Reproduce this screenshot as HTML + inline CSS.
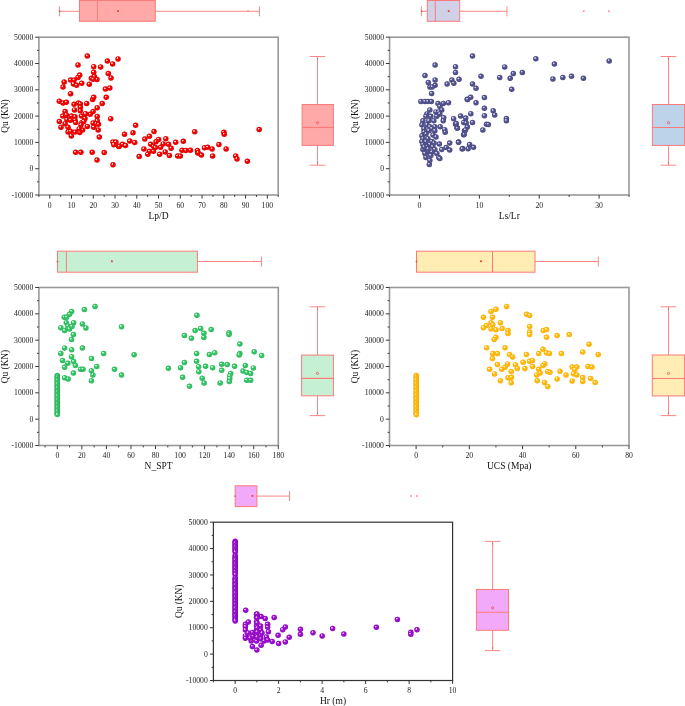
<!DOCTYPE html>
<html><head><meta charset="utf-8"><title>Scatter plots with marginal box plots</title>
<style>html,body{margin:0;padding:0;background:#fff;}body{width:685px;height:706px;overflow:hidden;}svg{display:block;}</style>
</head><body>
<svg width="685" height="706" viewBox="0 0 685 706"><defs><radialGradient id="gred" cx="0.5" cy="0.5" r="0.5" fx="0.33" fy="0.3"><stop offset="0" stop-color="#ffd0d0"/><stop offset="0.2" stop-color="#ffd0d0"/><stop offset="0.42" stop-color="#f50000"/><stop offset="0.82" stop-color="#f50000"/><stop offset="1" stop-color="#c80000"/></radialGradient><radialGradient id="gblue" cx="0.5" cy="0.5" r="0.5" fx="0.33" fy="0.3"><stop offset="0" stop-color="#c8c8e0"/><stop offset="0.2" stop-color="#c8c8e0"/><stop offset="0.42" stop-color="#52528e"/><stop offset="0.82" stop-color="#52528e"/><stop offset="1" stop-color="#3c3c74"/></radialGradient><radialGradient id="ggreen" cx="0.5" cy="0.5" r="0.5" fx="0.33" fy="0.3"><stop offset="0" stop-color="#c8f5d8"/><stop offset="0.2" stop-color="#c8f5d8"/><stop offset="0.42" stop-color="#33c365"/><stop offset="0.82" stop-color="#33c365"/><stop offset="1" stop-color="#22a852"/></radialGradient><radialGradient id="ggold" cx="0.5" cy="0.5" r="0.5" fx="0.33" fy="0.3"><stop offset="0" stop-color="#fff2c0"/><stop offset="0.2" stop-color="#fff2c0"/><stop offset="0.42" stop-color="#ffb90a"/><stop offset="0.82" stop-color="#ffb90a"/><stop offset="1" stop-color="#f0a400"/></radialGradient><radialGradient id="gpurple" cx="0.5" cy="0.5" r="0.5" fx="0.33" fy="0.3"><stop offset="0" stop-color="#e8b0f8"/><stop offset="0.2" stop-color="#e8b0f8"/><stop offset="0.42" stop-color="#9a0fce"/><stop offset="0.82" stop-color="#9a0fce"/><stop offset="1" stop-color="#7c00b0"/></radialGradient></defs><rect width="685" height="706" fill="#fff"/><rect x="38.9" y="37.2" width="239.29999999999998" height="157.8" fill="none" stroke="#999999" stroke-width="1.6"/><line x1="49.78" y1="195.0" x2="49.78" y2="198.7" stroke="#3a3a3a" stroke-width="1.0"/><text x="49.78" y="207.6" text-anchor="middle" style="font-family:'Liberation Serif','Times New Roman',serif;font-size:7.7px" fill="#222">0</text><line x1="71.53" y1="195.0" x2="71.53" y2="198.7" stroke="#3a3a3a" stroke-width="1.0"/><text x="71.53" y="207.6" text-anchor="middle" style="font-family:'Liberation Serif','Times New Roman',serif;font-size:7.7px" fill="#222">10</text><line x1="93.29" y1="195.0" x2="93.29" y2="198.7" stroke="#3a3a3a" stroke-width="1.0"/><text x="93.29" y="207.6" text-anchor="middle" style="font-family:'Liberation Serif','Times New Roman',serif;font-size:7.7px" fill="#222">20</text><line x1="115.04" y1="195.0" x2="115.04" y2="198.7" stroke="#3a3a3a" stroke-width="1.0"/><text x="115.04" y="207.6" text-anchor="middle" style="font-family:'Liberation Serif','Times New Roman',serif;font-size:7.7px" fill="#222">30</text><line x1="136.80" y1="195.0" x2="136.80" y2="198.7" stroke="#3a3a3a" stroke-width="1.0"/><text x="136.80" y="207.6" text-anchor="middle" style="font-family:'Liberation Serif','Times New Roman',serif;font-size:7.7px" fill="#222">40</text><line x1="158.55" y1="195.0" x2="158.55" y2="198.7" stroke="#3a3a3a" stroke-width="1.0"/><text x="158.55" y="207.6" text-anchor="middle" style="font-family:'Liberation Serif','Times New Roman',serif;font-size:7.7px" fill="#222">50</text><line x1="180.30" y1="195.0" x2="180.30" y2="198.7" stroke="#3a3a3a" stroke-width="1.0"/><text x="180.30" y="207.6" text-anchor="middle" style="font-family:'Liberation Serif','Times New Roman',serif;font-size:7.7px" fill="#222">60</text><line x1="202.06" y1="195.0" x2="202.06" y2="198.7" stroke="#3a3a3a" stroke-width="1.0"/><text x="202.06" y="207.6" text-anchor="middle" style="font-family:'Liberation Serif','Times New Roman',serif;font-size:7.7px" fill="#222">70</text><line x1="223.81" y1="195.0" x2="223.81" y2="198.7" stroke="#3a3a3a" stroke-width="1.0"/><text x="223.81" y="207.6" text-anchor="middle" style="font-family:'Liberation Serif','Times New Roman',serif;font-size:7.7px" fill="#222">80</text><line x1="245.57" y1="195.0" x2="245.57" y2="198.7" stroke="#3a3a3a" stroke-width="1.0"/><text x="245.57" y="207.6" text-anchor="middle" style="font-family:'Liberation Serif','Times New Roman',serif;font-size:7.7px" fill="#222">90</text><line x1="267.32" y1="195.0" x2="267.32" y2="198.7" stroke="#3a3a3a" stroke-width="1.0"/><text x="267.32" y="207.6" text-anchor="middle" style="font-family:'Liberation Serif','Times New Roman',serif;font-size:7.7px" fill="#222">100</text><line x1="38.90" y1="195.0" x2="38.90" y2="196.9" stroke="#3a3a3a" stroke-width="1.0"/><line x1="60.65" y1="195.0" x2="60.65" y2="196.9" stroke="#3a3a3a" stroke-width="1.0"/><line x1="82.41" y1="195.0" x2="82.41" y2="196.9" stroke="#3a3a3a" stroke-width="1.0"/><line x1="104.16" y1="195.0" x2="104.16" y2="196.9" stroke="#3a3a3a" stroke-width="1.0"/><line x1="125.92" y1="195.0" x2="125.92" y2="196.9" stroke="#3a3a3a" stroke-width="1.0"/><line x1="147.67" y1="195.0" x2="147.67" y2="196.9" stroke="#3a3a3a" stroke-width="1.0"/><line x1="169.43" y1="195.0" x2="169.43" y2="196.9" stroke="#3a3a3a" stroke-width="1.0"/><line x1="191.18" y1="195.0" x2="191.18" y2="196.9" stroke="#3a3a3a" stroke-width="1.0"/><line x1="212.94" y1="195.0" x2="212.94" y2="196.9" stroke="#3a3a3a" stroke-width="1.0"/><line x1="234.69" y1="195.0" x2="234.69" y2="196.9" stroke="#3a3a3a" stroke-width="1.0"/><line x1="256.45" y1="195.0" x2="256.45" y2="196.9" stroke="#3a3a3a" stroke-width="1.0"/><line x1="278.20" y1="195.0" x2="278.20" y2="196.9" stroke="#3a3a3a" stroke-width="1.0"/><line x1="35.199999999999996" y1="195.00" x2="38.9" y2="195.00" stroke="#3a3a3a" stroke-width="1.0"/><text x="33.3" y="197.60" text-anchor="end" style="font-family:'Liberation Serif','Times New Roman',serif;font-size:7.7px" fill="#222">-10000</text><line x1="35.199999999999996" y1="168.70" x2="38.9" y2="168.70" stroke="#3a3a3a" stroke-width="1.0"/><text x="33.3" y="171.30" text-anchor="end" style="font-family:'Liberation Serif','Times New Roman',serif;font-size:7.7px" fill="#222">0</text><line x1="35.199999999999996" y1="142.40" x2="38.9" y2="142.40" stroke="#3a3a3a" stroke-width="1.0"/><text x="33.3" y="145.00" text-anchor="end" style="font-family:'Liberation Serif','Times New Roman',serif;font-size:7.7px" fill="#222">10000</text><line x1="35.199999999999996" y1="116.10" x2="38.9" y2="116.10" stroke="#3a3a3a" stroke-width="1.0"/><text x="33.3" y="118.70" text-anchor="end" style="font-family:'Liberation Serif','Times New Roman',serif;font-size:7.7px" fill="#222">20000</text><line x1="35.199999999999996" y1="89.80" x2="38.9" y2="89.80" stroke="#3a3a3a" stroke-width="1.0"/><text x="33.3" y="92.40" text-anchor="end" style="font-family:'Liberation Serif','Times New Roman',serif;font-size:7.7px" fill="#222">30000</text><line x1="35.199999999999996" y1="63.50" x2="38.9" y2="63.50" stroke="#3a3a3a" stroke-width="1.0"/><text x="33.3" y="66.10" text-anchor="end" style="font-family:'Liberation Serif','Times New Roman',serif;font-size:7.7px" fill="#222">40000</text><line x1="35.199999999999996" y1="37.20" x2="38.9" y2="37.20" stroke="#3a3a3a" stroke-width="1.0"/><text x="33.3" y="39.80" text-anchor="end" style="font-family:'Liberation Serif','Times New Roman',serif;font-size:7.7px" fill="#222">50000</text><line x1="37.0" y1="181.85" x2="38.9" y2="181.85" stroke="#3a3a3a" stroke-width="1.0"/><line x1="37.0" y1="155.55" x2="38.9" y2="155.55" stroke="#3a3a3a" stroke-width="1.0"/><line x1="37.0" y1="129.25" x2="38.9" y2="129.25" stroke="#3a3a3a" stroke-width="1.0"/><line x1="37.0" y1="102.95" x2="38.9" y2="102.95" stroke="#3a3a3a" stroke-width="1.0"/><line x1="37.0" y1="76.65" x2="38.9" y2="76.65" stroke="#3a3a3a" stroke-width="1.0"/><line x1="37.0" y1="50.35" x2="38.9" y2="50.35" stroke="#3a3a3a" stroke-width="1.0"/><text x="158.55" y="218.7" text-anchor="middle" style="font-family:'Liberation Serif','Times New Roman',serif;font-size:9.5px" fill="#111">Lp/D</text><text x="7.70" y="116.10" text-anchor="middle" transform="rotate(-90 7.70 116.10)" style="font-family:'Liberation Serif','Times New Roman',serif;font-size:9.3px" fill="#111">Qu (KN)</text><rect x="79.5" y="0.5" width="75.80000000000001" height="20.8" fill="#ffa9a9" stroke="#fb7b7b" stroke-width="1"/><line x1="97.4" y1="0.5" x2="97.4" y2="21.3" stroke="#fb7b7b" stroke-width="1"/><line x1="59.5" y1="11.3" x2="79.5" y2="11.3" stroke="#fb7b7b" stroke-width="0.9"/><line x1="59.5" y1="6.300000000000001" x2="59.5" y2="16.3" stroke="#fb7b7b" stroke-width="0.9"/><circle cx="59.8" cy="11.3" r="0.9" fill="#f24a4a"/><line x1="155.3" y1="11.3" x2="259.5" y2="11.3" stroke="#fb7b7b" stroke-width="0.9"/><line x1="259.5" y1="6.300000000000001" x2="259.5" y2="16.3" stroke="#fb7b7b" stroke-width="0.9"/><rect x="117.1" y="10.200000000000001" width="1.8" height="1.8" fill="#ec4040"/><rect x="247.1" y="10.5" width="1.8" height="1.5" fill="#fb8a8a"/><line x1="317.5" y1="56.5" x2="317.5" y2="104.5" stroke="#fb7b7b" stroke-width="0.9"/><line x1="317.5" y1="145.4" x2="317.5" y2="165.2" stroke="#fb7b7b" stroke-width="0.9"/><line x1="309.7" y1="56.5" x2="325.3" y2="56.5" stroke="#fb7b7b" stroke-width="0.9"/><line x1="309.7" y1="165.2" x2="325.3" y2="165.2" stroke="#fb7b7b" stroke-width="0.9"/><rect x="302.1" y="104.5" width="31.299999999999955" height="40.900000000000006" fill="#ffa9a9" stroke="#fb7b7b" stroke-width="1"/><line x1="302.1" y1="127.5" x2="333.4" y2="127.5" stroke="#fb7b7b" stroke-width="1.1"/><circle cx="317.5" cy="122.7" r="1.1" fill="none" stroke="#ec5050" stroke-width="0.8"/><rect x="316.9" y="58.1" width="1.2" height="1.4" fill="#f06060"/><rect x="316.9" y="162.0" width="1.2" height="1.4" fill="#f06060"/><circle cx="87.3" cy="56.1" r="2.75" fill="url(#gred)"/><circle cx="78.0" cy="64.9" r="2.75" fill="url(#gred)"/><circle cx="93.7" cy="66.7" r="2.75" fill="url(#gred)"/><circle cx="100.7" cy="66.9" r="2.75" fill="url(#gred)"/><circle cx="107.4" cy="61.1" r="2.75" fill="url(#gred)"/><circle cx="112.6" cy="64.0" r="2.75" fill="url(#gred)"/><circle cx="118.0" cy="58.9" r="2.75" fill="url(#gred)"/><circle cx="79.7" cy="75.1" r="2.75" fill="url(#gred)"/><circle cx="78.0" cy="77.4" r="2.75" fill="url(#gred)"/><circle cx="70.6" cy="80.1" r="2.75" fill="url(#gred)"/><circle cx="74.1" cy="80.1" r="2.75" fill="url(#gred)"/><circle cx="64.2" cy="82.1" r="2.75" fill="url(#gred)"/><circle cx="73.5" cy="83.9" r="2.75" fill="url(#gred)"/><circle cx="76.6" cy="85.3" r="2.75" fill="url(#gred)"/><circle cx="81.7" cy="83.3" r="2.75" fill="url(#gred)"/><circle cx="63.0" cy="87.1" r="2.75" fill="url(#gred)"/><circle cx="93.7" cy="72.2" r="2.75" fill="url(#gred)"/><circle cx="91.4" cy="78.3" r="2.75" fill="url(#gred)"/><circle cx="94.3" cy="76.6" r="2.75" fill="url(#gred)"/><circle cx="97.0" cy="79.4" r="2.75" fill="url(#gred)"/><circle cx="93.1" cy="79.2" r="2.75" fill="url(#gred)"/><circle cx="89.3" cy="84.2" r="2.75" fill="url(#gred)"/><circle cx="108.3" cy="73.4" r="2.75" fill="url(#gred)"/><circle cx="111.0" cy="78.0" r="2.75" fill="url(#gred)"/><circle cx="105.4" cy="89.1" r="2.75" fill="url(#gred)"/><circle cx="109.8" cy="88.0" r="2.75" fill="url(#gred)"/><circle cx="70.6" cy="93.8" r="2.75" fill="url(#gred)"/><circle cx="59.3" cy="101.2" r="2.75" fill="url(#gred)"/><circle cx="63.0" cy="103.1" r="2.75" fill="url(#gred)"/><circle cx="66.3" cy="102.3" r="2.75" fill="url(#gred)"/><circle cx="74.1" cy="104.3" r="2.75" fill="url(#gred)"/><circle cx="78.5" cy="103.1" r="2.75" fill="url(#gred)"/><circle cx="80.3" cy="104.0" r="2.75" fill="url(#gred)"/><circle cx="80.3" cy="107.2" r="2.75" fill="url(#gred)"/><circle cx="86.7" cy="103.4" r="2.75" fill="url(#gred)"/><circle cx="92.6" cy="99.6" r="2.75" fill="url(#gred)"/><circle cx="93.7" cy="97.3" r="2.75" fill="url(#gred)"/><circle cx="102.2" cy="103.4" r="2.75" fill="url(#gred)"/><circle cx="106.2" cy="97.3" r="2.75" fill="url(#gred)"/><circle cx="97.2" cy="107.8" r="2.75" fill="url(#gred)"/><circle cx="74.5" cy="109.9" r="2.75" fill="url(#gred)"/><circle cx="80.3" cy="110.8" r="2.75" fill="url(#gred)"/><circle cx="65.1" cy="111.4" r="2.75" fill="url(#gred)"/><circle cx="93.1" cy="111.4" r="2.75" fill="url(#gred)"/><circle cx="90.2" cy="114.3" r="2.75" fill="url(#gred)"/><circle cx="85.5" cy="113.8" r="2.75" fill="url(#gred)"/><circle cx="62.8" cy="116.1" r="2.75" fill="url(#gred)"/><circle cx="66.3" cy="114.9" r="2.75" fill="url(#gred)"/><circle cx="71.5" cy="116.1" r="2.75" fill="url(#gred)"/><circle cx="75.0" cy="116.7" r="2.75" fill="url(#gred)"/><circle cx="81.5" cy="116.1" r="2.75" fill="url(#gred)"/><circle cx="85.0" cy="118.4" r="2.75" fill="url(#gred)"/><circle cx="97.2" cy="116.4" r="2.75" fill="url(#gred)"/><circle cx="110.7" cy="118.8" r="2.75" fill="url(#gred)"/><circle cx="59.3" cy="121.4" r="2.75" fill="url(#gred)"/><circle cx="66.9" cy="119.6" r="2.75" fill="url(#gred)"/><circle cx="70.4" cy="120.2" r="2.75" fill="url(#gred)"/><circle cx="75.0" cy="120.2" r="2.75" fill="url(#gred)"/><circle cx="75.6" cy="122.5" r="2.75" fill="url(#gred)"/><circle cx="82.0" cy="122.5" r="2.75" fill="url(#gred)"/><circle cx="83.8" cy="121.4" r="2.75" fill="url(#gred)"/><circle cx="65.1" cy="123.7" r="2.75" fill="url(#gred)"/><circle cx="93.1" cy="123.1" r="2.75" fill="url(#gred)"/><circle cx="97.2" cy="120.8" r="2.75" fill="url(#gred)"/><circle cx="96.1" cy="123.7" r="2.75" fill="url(#gred)"/><circle cx="98.4" cy="124.3" r="2.75" fill="url(#gred)"/><circle cx="61.0" cy="127.2" r="2.75" fill="url(#gred)"/><circle cx="68.0" cy="127.2" r="2.75" fill="url(#gred)"/><circle cx="80.9" cy="124.9" r="2.75" fill="url(#gred)"/><circle cx="87.3" cy="126.4" r="2.75" fill="url(#gred)"/><circle cx="93.7" cy="127.2" r="2.75" fill="url(#gred)"/><circle cx="68.0" cy="131.9" r="2.75" fill="url(#gred)"/><circle cx="70.4" cy="131.3" r="2.75" fill="url(#gred)"/><circle cx="75.0" cy="132.1" r="2.75" fill="url(#gred)"/><circle cx="79.7" cy="132.4" r="2.75" fill="url(#gred)"/><circle cx="82.6" cy="130.1" r="2.75" fill="url(#gred)"/><circle cx="79.1" cy="128.9" r="2.75" fill="url(#gred)"/><circle cx="98.2" cy="130.1" r="2.75" fill="url(#gred)"/><circle cx="71.3" cy="135.9" r="2.75" fill="url(#gred)"/><circle cx="99.3" cy="137.1" r="2.75" fill="url(#gred)"/><circle cx="113.0" cy="142.1" r="2.75" fill="url(#gred)"/><circle cx="115.9" cy="142.1" r="2.75" fill="url(#gred)"/><circle cx="113.8" cy="144.7" r="2.75" fill="url(#gred)"/><circle cx="118.8" cy="146.5" r="2.75" fill="url(#gred)"/><circle cx="75.6" cy="152.3" r="2.75" fill="url(#gred)"/><circle cx="80.9" cy="152.3" r="2.75" fill="url(#gred)"/><circle cx="92.2" cy="152.3" r="2.75" fill="url(#gred)"/><circle cx="104.2" cy="152.6" r="2.75" fill="url(#gred)"/><circle cx="97.0" cy="160.1" r="2.75" fill="url(#gred)"/><circle cx="113.0" cy="164.8" r="2.75" fill="url(#gred)"/><circle cx="135.6" cy="125.3" r="2.75" fill="url(#gred)"/><circle cx="124.5" cy="134.2" r="2.75" fill="url(#gred)"/><circle cx="133.0" cy="132.7" r="2.75" fill="url(#gred)"/><circle cx="154.0" cy="131.6" r="2.75" fill="url(#gred)"/><circle cx="194.7" cy="131.8" r="2.75" fill="url(#gred)"/><circle cx="149.4" cy="136.2" r="2.75" fill="url(#gred)"/><circle cx="144.8" cy="139.1" r="2.75" fill="url(#gred)"/><circle cx="119.2" cy="146.3" r="2.75" fill="url(#gred)"/><circle cx="122.5" cy="144.3" r="2.75" fill="url(#gred)"/><circle cx="125.5" cy="145.6" r="2.75" fill="url(#gred)"/><circle cx="129.7" cy="141.0" r="2.75" fill="url(#gred)"/><circle cx="134.7" cy="142.6" r="2.75" fill="url(#gred)"/><circle cx="158.6" cy="139.4" r="2.75" fill="url(#gred)"/><circle cx="156.0" cy="141.7" r="2.75" fill="url(#gred)"/><circle cx="150.7" cy="144.3" r="2.75" fill="url(#gred)"/><circle cx="153.4" cy="146.3" r="2.75" fill="url(#gred)"/><circle cx="155.3" cy="147.6" r="2.75" fill="url(#gred)"/><circle cx="165.8" cy="138.8" r="2.75" fill="url(#gred)"/><circle cx="163.2" cy="143.9" r="2.75" fill="url(#gred)"/><circle cx="168.5" cy="144.3" r="2.75" fill="url(#gred)"/><circle cx="160.6" cy="147.3" r="2.75" fill="url(#gred)"/><circle cx="171.1" cy="148.2" r="2.75" fill="url(#gred)"/><circle cx="175.7" cy="142.3" r="2.75" fill="url(#gred)"/><circle cx="183.3" cy="141.3" r="2.75" fill="url(#gred)"/><circle cx="143.9" cy="148.9" r="2.75" fill="url(#gred)"/><circle cx="149.4" cy="151.3" r="2.75" fill="url(#gred)"/><circle cx="153.4" cy="151.3" r="2.75" fill="url(#gred)"/><circle cx="147.8" cy="154.2" r="2.75" fill="url(#gred)"/><circle cx="159.7" cy="154.2" r="2.75" fill="url(#gred)"/><circle cx="165.2" cy="151.9" r="2.75" fill="url(#gred)"/><circle cx="169.4" cy="155.5" r="2.75" fill="url(#gred)"/><circle cx="177.7" cy="156.1" r="2.75" fill="url(#gred)"/><circle cx="180.3" cy="156.1" r="2.75" fill="url(#gred)"/><circle cx="182.0" cy="150.2" r="2.75" fill="url(#gred)"/><circle cx="185.9" cy="150.5" r="2.75" fill="url(#gred)"/><circle cx="190.4" cy="150.2" r="2.75" fill="url(#gred)"/><circle cx="197.4" cy="150.5" r="2.75" fill="url(#gred)"/><circle cx="197.8" cy="153.1" r="2.75" fill="url(#gred)"/><circle cx="139.2" cy="156.5" r="2.75" fill="url(#gred)"/><circle cx="223.9" cy="132.3" r="2.75" fill="url(#gred)"/><circle cx="224.2" cy="134.3" r="2.75" fill="url(#gred)"/><circle cx="259.2" cy="129.4" r="2.75" fill="url(#gred)"/><circle cx="198.1" cy="152.7" r="2.75" fill="url(#gred)"/><circle cx="201.4" cy="155.1" r="2.75" fill="url(#gred)"/><circle cx="204.5" cy="147.8" r="2.75" fill="url(#gred)"/><circle cx="207.7" cy="147.2" r="2.75" fill="url(#gred)"/><circle cx="212.1" cy="149.0" r="2.75" fill="url(#gred)"/><circle cx="218.9" cy="144.6" r="2.75" fill="url(#gred)"/><circle cx="226.1" cy="149.0" r="2.75" fill="url(#gred)"/><circle cx="212.6" cy="156.0" r="2.75" fill="url(#gred)"/><circle cx="235.7" cy="156.0" r="2.75" fill="url(#gred)"/><circle cx="237.0" cy="158.9" r="2.75" fill="url(#gred)"/><circle cx="247.4" cy="161.2" r="2.75" fill="url(#gred)"/><rect x="389.6" y="37.2" width="239.39999999999998" height="157.8" fill="none" stroke="#999999" stroke-width="1.6"/><line x1="419.53" y1="195.0" x2="419.53" y2="198.7" stroke="#3a3a3a" stroke-width="1.0"/><text x="419.53" y="207.6" text-anchor="middle" style="font-family:'Liberation Serif','Times New Roman',serif;font-size:7.7px" fill="#222">0</text><line x1="479.38" y1="195.0" x2="479.38" y2="198.7" stroke="#3a3a3a" stroke-width="1.0"/><text x="479.38" y="207.6" text-anchor="middle" style="font-family:'Liberation Serif','Times New Roman',serif;font-size:7.7px" fill="#222">10</text><line x1="539.23" y1="195.0" x2="539.23" y2="198.7" stroke="#3a3a3a" stroke-width="1.0"/><text x="539.23" y="207.6" text-anchor="middle" style="font-family:'Liberation Serif','Times New Roman',serif;font-size:7.7px" fill="#222">20</text><line x1="599.08" y1="195.0" x2="599.08" y2="198.7" stroke="#3a3a3a" stroke-width="1.0"/><text x="599.08" y="207.6" text-anchor="middle" style="font-family:'Liberation Serif','Times New Roman',serif;font-size:7.7px" fill="#222">30</text><line x1="389.60" y1="195.0" x2="389.60" y2="196.9" stroke="#3a3a3a" stroke-width="1.0"/><line x1="449.45" y1="195.0" x2="449.45" y2="196.9" stroke="#3a3a3a" stroke-width="1.0"/><line x1="509.30" y1="195.0" x2="509.30" y2="196.9" stroke="#3a3a3a" stroke-width="1.0"/><line x1="569.15" y1="195.0" x2="569.15" y2="196.9" stroke="#3a3a3a" stroke-width="1.0"/><line x1="629.00" y1="195.0" x2="629.00" y2="196.9" stroke="#3a3a3a" stroke-width="1.0"/><line x1="385.90000000000003" y1="195.00" x2="389.6" y2="195.00" stroke="#3a3a3a" stroke-width="1.0"/><text x="384.0" y="197.60" text-anchor="end" style="font-family:'Liberation Serif','Times New Roman',serif;font-size:7.7px" fill="#222">-10000</text><line x1="385.90000000000003" y1="168.70" x2="389.6" y2="168.70" stroke="#3a3a3a" stroke-width="1.0"/><text x="384.0" y="171.30" text-anchor="end" style="font-family:'Liberation Serif','Times New Roman',serif;font-size:7.7px" fill="#222">0</text><line x1="385.90000000000003" y1="142.40" x2="389.6" y2="142.40" stroke="#3a3a3a" stroke-width="1.0"/><text x="384.0" y="145.00" text-anchor="end" style="font-family:'Liberation Serif','Times New Roman',serif;font-size:7.7px" fill="#222">10000</text><line x1="385.90000000000003" y1="116.10" x2="389.6" y2="116.10" stroke="#3a3a3a" stroke-width="1.0"/><text x="384.0" y="118.70" text-anchor="end" style="font-family:'Liberation Serif','Times New Roman',serif;font-size:7.7px" fill="#222">20000</text><line x1="385.90000000000003" y1="89.80" x2="389.6" y2="89.80" stroke="#3a3a3a" stroke-width="1.0"/><text x="384.0" y="92.40" text-anchor="end" style="font-family:'Liberation Serif','Times New Roman',serif;font-size:7.7px" fill="#222">30000</text><line x1="385.90000000000003" y1="63.50" x2="389.6" y2="63.50" stroke="#3a3a3a" stroke-width="1.0"/><text x="384.0" y="66.10" text-anchor="end" style="font-family:'Liberation Serif','Times New Roman',serif;font-size:7.7px" fill="#222">40000</text><line x1="385.90000000000003" y1="37.20" x2="389.6" y2="37.20" stroke="#3a3a3a" stroke-width="1.0"/><text x="384.0" y="39.80" text-anchor="end" style="font-family:'Liberation Serif','Times New Roman',serif;font-size:7.7px" fill="#222">50000</text><line x1="387.70000000000005" y1="181.85" x2="389.6" y2="181.85" stroke="#3a3a3a" stroke-width="1.0"/><line x1="387.70000000000005" y1="155.55" x2="389.6" y2="155.55" stroke="#3a3a3a" stroke-width="1.0"/><line x1="387.70000000000005" y1="129.25" x2="389.6" y2="129.25" stroke="#3a3a3a" stroke-width="1.0"/><line x1="387.70000000000005" y1="102.95" x2="389.6" y2="102.95" stroke="#3a3a3a" stroke-width="1.0"/><line x1="387.70000000000005" y1="76.65" x2="389.6" y2="76.65" stroke="#3a3a3a" stroke-width="1.0"/><line x1="387.70000000000005" y1="50.35" x2="389.6" y2="50.35" stroke="#3a3a3a" stroke-width="1.0"/><text x="509.30" y="218.7" text-anchor="middle" style="font-family:'Liberation Serif','Times New Roman',serif;font-size:9.5px" fill="#111">Ls/Lr</text><text x="358.40" y="116.10" text-anchor="middle" transform="rotate(-90 358.40 116.10)" style="font-family:'Liberation Serif','Times New Roman',serif;font-size:9.3px" fill="#111">Qu (KN)</text><rect x="427.3" y="0.5" width="32.39999999999998" height="20.8" fill="#d0d0e6" stroke="#fb7b7b" stroke-width="1"/><line x1="435.3" y1="0.5" x2="435.3" y2="21.3" stroke="#fb7b7b" stroke-width="1"/><line x1="421.4" y1="11.3" x2="427.3" y2="11.3" stroke="#fb7b7b" stroke-width="0.9"/><line x1="421.4" y1="6.300000000000001" x2="421.4" y2="16.3" stroke="#fb7b7b" stroke-width="0.9"/><circle cx="421.7" cy="11.3" r="0.9" fill="#f24a4a"/><line x1="459.7" y1="11.3" x2="506.9" y2="11.3" stroke="#fb7b7b" stroke-width="0.9"/><line x1="506.9" y1="6.300000000000001" x2="506.9" y2="16.3" stroke="#fb7b7b" stroke-width="0.9"/><rect x="447.8" y="10.200000000000001" width="1.8" height="1.8" fill="#ec4040"/><rect x="582.8000000000001" y="10.5" width="1.8" height="1.5" fill="#fb8a8a"/><rect x="608.1" y="10.5" width="1.8" height="1.5" fill="#fb8a8a"/><line x1="668.5" y1="56.5" x2="668.5" y2="104.5" stroke="#fb7b7b" stroke-width="0.9"/><line x1="668.5" y1="145.4" x2="668.5" y2="165.2" stroke="#fb7b7b" stroke-width="0.9"/><line x1="660.7" y1="56.5" x2="676.3" y2="56.5" stroke="#fb7b7b" stroke-width="0.9"/><line x1="660.7" y1="165.2" x2="676.3" y2="165.2" stroke="#fb7b7b" stroke-width="0.9"/><rect x="652.4" y="104.5" width="32.200000000000045" height="40.900000000000006" fill="#bcd3ea" stroke="#fb7b7b" stroke-width="1"/><line x1="652.4" y1="127.5" x2="684.6" y2="127.5" stroke="#fb7b7b" stroke-width="1.1"/><circle cx="668.5" cy="122.7" r="1.1" fill="none" stroke="#ec5050" stroke-width="0.8"/><rect x="667.9" y="58.1" width="1.2" height="1.4" fill="#f06060"/><rect x="667.9" y="162.0" width="1.2" height="1.4" fill="#f06060"/><circle cx="472.5" cy="56.1" r="2.75" fill="url(#gblue)"/><circle cx="435.1" cy="65.1" r="2.75" fill="url(#gblue)"/><circle cx="455.5" cy="66.8" r="2.75" fill="url(#gblue)"/><circle cx="455.5" cy="72.4" r="2.75" fill="url(#gblue)"/><circle cx="425.0" cy="75.6" r="2.75" fill="url(#gblue)"/><circle cx="481.0" cy="76.3" r="2.75" fill="url(#gblue)"/><circle cx="435.1" cy="80.0" r="2.75" fill="url(#gblue)"/><circle cx="428.3" cy="82.4" r="2.75" fill="url(#gblue)"/><circle cx="451.8" cy="80.0" r="2.75" fill="url(#gblue)"/><circle cx="459.0" cy="79.2" r="2.75" fill="url(#gblue)"/><circle cx="447.1" cy="84.1" r="2.75" fill="url(#gblue)"/><circle cx="453.8" cy="83.3" r="2.75" fill="url(#gblue)"/><circle cx="435.1" cy="85.3" r="2.75" fill="url(#gblue)"/><circle cx="429.9" cy="87.0" r="2.75" fill="url(#gblue)"/><circle cx="432.2" cy="87.0" r="2.75" fill="url(#gblue)"/><circle cx="472.5" cy="84.1" r="2.75" fill="url(#gblue)"/><circle cx="476.0" cy="88.2" r="2.75" fill="url(#gblue)"/><circle cx="431.6" cy="93.5" r="2.75" fill="url(#gblue)"/><circle cx="470.7" cy="97.3" r="2.75" fill="url(#gblue)"/><circle cx="467.2" cy="99.3" r="2.75" fill="url(#gblue)"/><circle cx="484.4" cy="97.6" r="2.75" fill="url(#gblue)"/><circle cx="476.0" cy="102.8" r="2.75" fill="url(#gblue)"/><circle cx="438.0" cy="103.4" r="2.75" fill="url(#gblue)"/><circle cx="443.3" cy="103.4" r="2.75" fill="url(#gblue)"/><circle cx="448.5" cy="102.8" r="2.75" fill="url(#gblue)"/><circle cx="420.9" cy="101.5" r="2.75" fill="url(#gblue)"/><circle cx="424.9" cy="101.5" r="2.75" fill="url(#gblue)"/><circle cx="427.9" cy="101.5" r="2.75" fill="url(#gblue)"/><circle cx="431.3" cy="101.5" r="2.75" fill="url(#gblue)"/><circle cx="439.8" cy="106.4" r="2.75" fill="url(#gblue)"/><circle cx="429.8" cy="109.9" r="2.75" fill="url(#gblue)"/><circle cx="441.7" cy="109.9" r="2.75" fill="url(#gblue)"/><circle cx="435.8" cy="111.9" r="2.75" fill="url(#gblue)"/><circle cx="438.8" cy="111.9" r="2.75" fill="url(#gblue)"/><circle cx="426.9" cy="113.9" r="2.75" fill="url(#gblue)"/><circle cx="439.8" cy="113.9" r="2.75" fill="url(#gblue)"/><circle cx="425.9" cy="116.3" r="2.75" fill="url(#gblue)"/><circle cx="430.8" cy="116.3" r="2.75" fill="url(#gblue)"/><circle cx="436.8" cy="116.3" r="2.75" fill="url(#gblue)"/><circle cx="443.7" cy="117.8" r="2.75" fill="url(#gblue)"/><circle cx="453.6" cy="118.8" r="2.75" fill="url(#gblue)"/><circle cx="460.6" cy="116.0" r="2.75" fill="url(#gblue)"/><circle cx="422.9" cy="120.8" r="2.75" fill="url(#gblue)"/><circle cx="428.8" cy="120.8" r="2.75" fill="url(#gblue)"/><circle cx="433.8" cy="120.8" r="2.75" fill="url(#gblue)"/><circle cx="443.2" cy="120.8" r="2.75" fill="url(#gblue)"/><circle cx="465.5" cy="122.3" r="2.75" fill="url(#gblue)"/><circle cx="455.6" cy="124.3" r="2.75" fill="url(#gblue)"/><circle cx="421.9" cy="124.8" r="2.75" fill="url(#gblue)"/><circle cx="426.9" cy="124.8" r="2.75" fill="url(#gblue)"/><circle cx="429.8" cy="126.8" r="2.75" fill="url(#gblue)"/><circle cx="434.8" cy="126.8" r="2.75" fill="url(#gblue)"/><circle cx="440.2" cy="126.8" r="2.75" fill="url(#gblue)"/><circle cx="457.1" cy="127.8" r="2.75" fill="url(#gblue)"/><circle cx="423.9" cy="128.7" r="2.75" fill="url(#gblue)"/><circle cx="431.8" cy="128.7" r="2.75" fill="url(#gblue)"/><circle cx="444.7" cy="129.7" r="2.75" fill="url(#gblue)"/><circle cx="434.8" cy="130.7" r="2.75" fill="url(#gblue)"/><circle cx="428.8" cy="130.7" r="2.75" fill="url(#gblue)"/><circle cx="445.2" cy="132.2" r="2.75" fill="url(#gblue)"/><circle cx="464.5" cy="130.7" r="2.75" fill="url(#gblue)"/><circle cx="463.6" cy="134.7" r="2.75" fill="url(#gblue)"/><circle cx="421.9" cy="135.7" r="2.75" fill="url(#gblue)"/><circle cx="422.9" cy="138.7" r="2.75" fill="url(#gblue)"/><circle cx="427.9" cy="138.7" r="2.75" fill="url(#gblue)"/><circle cx="421.9" cy="141.6" r="2.75" fill="url(#gblue)"/><circle cx="425.9" cy="141.6" r="2.75" fill="url(#gblue)"/><circle cx="431.8" cy="141.6" r="2.75" fill="url(#gblue)"/><circle cx="458.6" cy="142.1" r="2.75" fill="url(#gblue)"/><circle cx="449.7" cy="143.1" r="2.75" fill="url(#gblue)"/><circle cx="439.3" cy="144.1" r="2.75" fill="url(#gblue)"/><circle cx="422.9" cy="144.6" r="2.75" fill="url(#gblue)"/><circle cx="429.8" cy="144.6" r="2.75" fill="url(#gblue)"/><circle cx="426.9" cy="146.6" r="2.75" fill="url(#gblue)"/><circle cx="432.8" cy="146.6" r="2.75" fill="url(#gblue)"/><circle cx="446.2" cy="147.6" r="2.75" fill="url(#gblue)"/><circle cx="462.6" cy="148.6" r="2.75" fill="url(#gblue)"/><circle cx="422.9" cy="149.6" r="2.75" fill="url(#gblue)"/><circle cx="434.8" cy="149.6" r="2.75" fill="url(#gblue)"/><circle cx="441.7" cy="149.6" r="2.75" fill="url(#gblue)"/><circle cx="449.7" cy="150.1" r="2.75" fill="url(#gblue)"/><circle cx="427.9" cy="152.0" r="2.75" fill="url(#gblue)"/><circle cx="431.8" cy="152.0" r="2.75" fill="url(#gblue)"/><circle cx="424.9" cy="153.5" r="2.75" fill="url(#gblue)"/><circle cx="436.8" cy="153.5" r="2.75" fill="url(#gblue)"/><circle cx="430.8" cy="155.5" r="2.75" fill="url(#gblue)"/><circle cx="425.9" cy="157.5" r="2.75" fill="url(#gblue)"/><circle cx="438.8" cy="157.5" r="2.75" fill="url(#gblue)"/><circle cx="439.8" cy="158.5" r="2.75" fill="url(#gblue)"/><circle cx="429.8" cy="160.5" r="2.75" fill="url(#gblue)"/><circle cx="429.3" cy="164.4" r="2.75" fill="url(#gblue)"/><circle cx="424.0" cy="132.0" r="2.75" fill="url(#gblue)"/><circle cx="426.0" cy="134.0" r="2.75" fill="url(#gblue)"/><circle cx="433.0" cy="135.0" r="2.75" fill="url(#gblue)"/><circle cx="436.0" cy="137.0" r="2.75" fill="url(#gblue)"/><circle cx="424.0" cy="147.0" r="2.75" fill="url(#gblue)"/><circle cx="428.0" cy="149.0" r="2.75" fill="url(#gblue)"/><circle cx="434.0" cy="143.0" r="2.75" fill="url(#gblue)"/><circle cx="467.6" cy="99.4" r="2.75" fill="url(#gblue)"/><circle cx="484.4" cy="108.2" r="2.75" fill="url(#gblue)"/><circle cx="493.2" cy="110.8" r="2.75" fill="url(#gblue)"/><circle cx="494.7" cy="114.9" r="2.75" fill="url(#gblue)"/><circle cx="484.4" cy="115.8" r="2.75" fill="url(#gblue)"/><circle cx="470.8" cy="113.7" r="2.75" fill="url(#gblue)"/><circle cx="465.7" cy="118.1" r="2.75" fill="url(#gblue)"/><circle cx="472.5" cy="122.4" r="2.75" fill="url(#gblue)"/><circle cx="463.8" cy="122.4" r="2.75" fill="url(#gblue)"/><circle cx="466.1" cy="123.0" r="2.75" fill="url(#gblue)"/><circle cx="456.2" cy="123.6" r="2.75" fill="url(#gblue)"/><circle cx="467.3" cy="127.1" r="2.75" fill="url(#gblue)"/><circle cx="457.3" cy="128.3" r="2.75" fill="url(#gblue)"/><circle cx="465.5" cy="130.0" r="2.75" fill="url(#gblue)"/><circle cx="464.1" cy="134.5" r="2.75" fill="url(#gblue)"/><circle cx="486.5" cy="124.2" r="2.75" fill="url(#gblue)"/><circle cx="488.3" cy="124.4" r="2.75" fill="url(#gblue)"/><circle cx="482.8" cy="130.0" r="2.75" fill="url(#gblue)"/><circle cx="506.4" cy="118.4" r="2.75" fill="url(#gblue)"/><circle cx="506.4" cy="120.7" r="2.75" fill="url(#gblue)"/><circle cx="458.5" cy="142.3" r="2.75" fill="url(#gblue)"/><circle cx="462.2" cy="149.0" r="2.75" fill="url(#gblue)"/><circle cx="468.1" cy="148.7" r="2.75" fill="url(#gblue)"/><circle cx="469.6" cy="144.6" r="2.75" fill="url(#gblue)"/><circle cx="473.5" cy="147.3" r="2.75" fill="url(#gblue)"/><circle cx="504.7" cy="66.9" r="2.75" fill="url(#gblue)"/><circle cx="499.7" cy="77.4" r="2.75" fill="url(#gblue)"/><circle cx="510.2" cy="78.3" r="2.75" fill="url(#gblue)"/><circle cx="513.3" cy="73.5" r="2.75" fill="url(#gblue)"/><circle cx="522.3" cy="72.4" r="2.75" fill="url(#gblue)"/><circle cx="511.7" cy="89.2" r="2.75" fill="url(#gblue)"/><circle cx="535.8" cy="58.8" r="2.75" fill="url(#gblue)"/><circle cx="554.4" cy="64.1" r="2.75" fill="url(#gblue)"/><circle cx="552.9" cy="78.9" r="2.75" fill="url(#gblue)"/><circle cx="562.8" cy="77.4" r="2.75" fill="url(#gblue)"/><circle cx="571.5" cy="76.3" r="2.75" fill="url(#gblue)"/><circle cx="583.4" cy="78.3" r="2.75" fill="url(#gblue)"/><circle cx="609.2" cy="61.0" r="2.75" fill="url(#gblue)"/><rect x="38.9" y="287.5" width="239.4" height="158.0" fill="none" stroke="#999999" stroke-width="1.6"/><line x1="57.32" y1="445.5" x2="57.32" y2="449.2" stroke="#3a3a3a" stroke-width="1.0"/><text x="57.32" y="458.1" text-anchor="middle" style="font-family:'Liberation Serif','Times New Roman',serif;font-size:7.7px" fill="#222">0</text><line x1="81.87" y1="445.5" x2="81.87" y2="449.2" stroke="#3a3a3a" stroke-width="1.0"/><text x="81.87" y="458.1" text-anchor="middle" style="font-family:'Liberation Serif','Times New Roman',serif;font-size:7.7px" fill="#222">20</text><line x1="106.42" y1="445.5" x2="106.42" y2="449.2" stroke="#3a3a3a" stroke-width="1.0"/><text x="106.42" y="458.1" text-anchor="middle" style="font-family:'Liberation Serif','Times New Roman',serif;font-size:7.7px" fill="#222">40</text><line x1="130.98" y1="445.5" x2="130.98" y2="449.2" stroke="#3a3a3a" stroke-width="1.0"/><text x="130.98" y="458.1" text-anchor="middle" style="font-family:'Liberation Serif','Times New Roman',serif;font-size:7.7px" fill="#222">60</text><line x1="155.53" y1="445.5" x2="155.53" y2="449.2" stroke="#3a3a3a" stroke-width="1.0"/><text x="155.53" y="458.1" text-anchor="middle" style="font-family:'Liberation Serif','Times New Roman',serif;font-size:7.7px" fill="#222">80</text><line x1="180.08" y1="445.5" x2="180.08" y2="449.2" stroke="#3a3a3a" stroke-width="1.0"/><text x="180.08" y="458.1" text-anchor="middle" style="font-family:'Liberation Serif','Times New Roman',serif;font-size:7.7px" fill="#222">100</text><line x1="204.64" y1="445.5" x2="204.64" y2="449.2" stroke="#3a3a3a" stroke-width="1.0"/><text x="204.64" y="458.1" text-anchor="middle" style="font-family:'Liberation Serif','Times New Roman',serif;font-size:7.7px" fill="#222">120</text><line x1="229.19" y1="445.5" x2="229.19" y2="449.2" stroke="#3a3a3a" stroke-width="1.0"/><text x="229.19" y="458.1" text-anchor="middle" style="font-family:'Liberation Serif','Times New Roman',serif;font-size:7.7px" fill="#222">140</text><line x1="253.75" y1="445.5" x2="253.75" y2="449.2" stroke="#3a3a3a" stroke-width="1.0"/><text x="253.75" y="458.1" text-anchor="middle" style="font-family:'Liberation Serif','Times New Roman',serif;font-size:7.7px" fill="#222">160</text><line x1="278.30" y1="445.5" x2="278.30" y2="449.2" stroke="#3a3a3a" stroke-width="1.0"/><text x="278.30" y="458.1" text-anchor="middle" style="font-family:'Liberation Serif','Times New Roman',serif;font-size:7.7px" fill="#222">180</text><line x1="45.04" y1="445.5" x2="45.04" y2="447.4" stroke="#3a3a3a" stroke-width="1.0"/><line x1="69.59" y1="445.5" x2="69.59" y2="447.4" stroke="#3a3a3a" stroke-width="1.0"/><line x1="94.15" y1="445.5" x2="94.15" y2="447.4" stroke="#3a3a3a" stroke-width="1.0"/><line x1="118.70" y1="445.5" x2="118.70" y2="447.4" stroke="#3a3a3a" stroke-width="1.0"/><line x1="143.25" y1="445.5" x2="143.25" y2="447.4" stroke="#3a3a3a" stroke-width="1.0"/><line x1="167.81" y1="445.5" x2="167.81" y2="447.4" stroke="#3a3a3a" stroke-width="1.0"/><line x1="192.36" y1="445.5" x2="192.36" y2="447.4" stroke="#3a3a3a" stroke-width="1.0"/><line x1="216.92" y1="445.5" x2="216.92" y2="447.4" stroke="#3a3a3a" stroke-width="1.0"/><line x1="241.47" y1="445.5" x2="241.47" y2="447.4" stroke="#3a3a3a" stroke-width="1.0"/><line x1="266.02" y1="445.5" x2="266.02" y2="447.4" stroke="#3a3a3a" stroke-width="1.0"/><line x1="35.199999999999996" y1="445.50" x2="38.9" y2="445.50" stroke="#3a3a3a" stroke-width="1.0"/><text x="33.3" y="448.10" text-anchor="end" style="font-family:'Liberation Serif','Times New Roman',serif;font-size:7.7px" fill="#222">-10000</text><line x1="35.199999999999996" y1="419.17" x2="38.9" y2="419.17" stroke="#3a3a3a" stroke-width="1.0"/><text x="33.3" y="421.77" text-anchor="end" style="font-family:'Liberation Serif','Times New Roman',serif;font-size:7.7px" fill="#222">0</text><line x1="35.199999999999996" y1="392.83" x2="38.9" y2="392.83" stroke="#3a3a3a" stroke-width="1.0"/><text x="33.3" y="395.43" text-anchor="end" style="font-family:'Liberation Serif','Times New Roman',serif;font-size:7.7px" fill="#222">10000</text><line x1="35.199999999999996" y1="366.50" x2="38.9" y2="366.50" stroke="#3a3a3a" stroke-width="1.0"/><text x="33.3" y="369.10" text-anchor="end" style="font-family:'Liberation Serif','Times New Roman',serif;font-size:7.7px" fill="#222">20000</text><line x1="35.199999999999996" y1="340.17" x2="38.9" y2="340.17" stroke="#3a3a3a" stroke-width="1.0"/><text x="33.3" y="342.77" text-anchor="end" style="font-family:'Liberation Serif','Times New Roman',serif;font-size:7.7px" fill="#222">30000</text><line x1="35.199999999999996" y1="313.83" x2="38.9" y2="313.83" stroke="#3a3a3a" stroke-width="1.0"/><text x="33.3" y="316.43" text-anchor="end" style="font-family:'Liberation Serif','Times New Roman',serif;font-size:7.7px" fill="#222">40000</text><line x1="35.199999999999996" y1="287.50" x2="38.9" y2="287.50" stroke="#3a3a3a" stroke-width="1.0"/><text x="33.3" y="290.10" text-anchor="end" style="font-family:'Liberation Serif','Times New Roman',serif;font-size:7.7px" fill="#222">50000</text><line x1="37.0" y1="432.33" x2="38.9" y2="432.33" stroke="#3a3a3a" stroke-width="1.0"/><line x1="37.0" y1="406.00" x2="38.9" y2="406.00" stroke="#3a3a3a" stroke-width="1.0"/><line x1="37.0" y1="379.67" x2="38.9" y2="379.67" stroke="#3a3a3a" stroke-width="1.0"/><line x1="37.0" y1="353.33" x2="38.9" y2="353.33" stroke="#3a3a3a" stroke-width="1.0"/><line x1="37.0" y1="327.00" x2="38.9" y2="327.00" stroke="#3a3a3a" stroke-width="1.0"/><line x1="37.0" y1="300.67" x2="38.9" y2="300.67" stroke="#3a3a3a" stroke-width="1.0"/><text x="158.60" y="469.2" text-anchor="middle" style="font-family:'Liberation Serif','Times New Roman',serif;font-size:9.5px" fill="#111">N_SPT</text><text x="7.70" y="366.50" text-anchor="middle" transform="rotate(-90 7.70 366.50)" style="font-family:'Liberation Serif','Times New Roman',serif;font-size:9.3px" fill="#111">Qu (KN)</text><rect x="57.5" y="251.2" width="139.9" height="21.0" fill="#c6f0d4" stroke="#fb7b7b" stroke-width="1"/><line x1="66.4" y1="251.2" x2="66.4" y2="272.2" stroke="#fb7b7b" stroke-width="1"/><circle cx="57.5" cy="261.5" r="0.9" fill="#f24a4a"/><line x1="197.4" y1="261.5" x2="261.5" y2="261.5" stroke="#fb7b7b" stroke-width="0.9"/><line x1="261.5" y1="256.5" x2="261.5" y2="266.5" stroke="#fb7b7b" stroke-width="0.9"/><rect x="111.0" y="260.4" width="1.8" height="1.8" fill="#ec4040"/><rect x="253.29999999999998" y="260.7" width="1.8" height="1.5" fill="#fb8a8a"/><line x1="317.5" y1="306.8" x2="317.5" y2="355.1" stroke="#fb7b7b" stroke-width="0.9"/><line x1="317.5" y1="395.8" x2="317.5" y2="415.6" stroke="#fb7b7b" stroke-width="0.9"/><line x1="309.7" y1="306.8" x2="325.3" y2="306.8" stroke="#fb7b7b" stroke-width="0.9"/><line x1="309.7" y1="415.6" x2="325.3" y2="415.6" stroke="#fb7b7b" stroke-width="0.9"/><rect x="301.6" y="355.1" width="31.799999999999955" height="40.69999999999999" fill="#c6f0d4" stroke="#fb7b7b" stroke-width="1"/><line x1="301.6" y1="378.4" x2="333.4" y2="378.4" stroke="#fb7b7b" stroke-width="1.1"/><circle cx="317.5" cy="373.4" r="1.1" fill="none" stroke="#ec5050" stroke-width="0.8"/><rect x="316.9" y="308.40000000000003" width="1.2" height="1.4" fill="#f06060"/><rect x="316.9" y="412.40000000000003" width="1.2" height="1.4" fill="#f06060"/><circle cx="57.3" cy="375.4" r="2.75" fill="url(#ggreen)"/><circle cx="57.3" cy="376.8" r="2.75" fill="url(#ggreen)"/><circle cx="57.3" cy="378.1" r="2.75" fill="url(#ggreen)"/><circle cx="57.3" cy="379.5" r="2.75" fill="url(#ggreen)"/><circle cx="57.3" cy="380.8" r="2.75" fill="url(#ggreen)"/><circle cx="57.3" cy="382.2" r="2.75" fill="url(#ggreen)"/><circle cx="57.3" cy="383.5" r="2.75" fill="url(#ggreen)"/><circle cx="57.3" cy="384.9" r="2.75" fill="url(#ggreen)"/><circle cx="57.3" cy="386.2" r="2.75" fill="url(#ggreen)"/><circle cx="57.3" cy="387.6" r="2.75" fill="url(#ggreen)"/><circle cx="57.3" cy="388.9" r="2.75" fill="url(#ggreen)"/><circle cx="57.3" cy="390.3" r="2.75" fill="url(#ggreen)"/><circle cx="57.3" cy="391.6" r="2.75" fill="url(#ggreen)"/><circle cx="57.3" cy="393.0" r="2.75" fill="url(#ggreen)"/><circle cx="57.3" cy="394.3" r="2.75" fill="url(#ggreen)"/><circle cx="57.3" cy="395.7" r="2.75" fill="url(#ggreen)"/><circle cx="57.3" cy="397.0" r="2.75" fill="url(#ggreen)"/><circle cx="57.3" cy="398.4" r="2.75" fill="url(#ggreen)"/><circle cx="57.3" cy="399.7" r="2.75" fill="url(#ggreen)"/><circle cx="57.3" cy="401.1" r="2.75" fill="url(#ggreen)"/><circle cx="57.3" cy="402.4" r="2.75" fill="url(#ggreen)"/><circle cx="57.3" cy="403.8" r="2.75" fill="url(#ggreen)"/><circle cx="57.3" cy="405.1" r="2.75" fill="url(#ggreen)"/><circle cx="57.3" cy="406.5" r="2.75" fill="url(#ggreen)"/><circle cx="57.3" cy="407.8" r="2.75" fill="url(#ggreen)"/><circle cx="57.3" cy="409.2" r="2.75" fill="url(#ggreen)"/><circle cx="57.3" cy="410.5" r="2.75" fill="url(#ggreen)"/><circle cx="57.3" cy="411.9" r="2.75" fill="url(#ggreen)"/><circle cx="57.3" cy="413.2" r="2.75" fill="url(#ggreen)"/><circle cx="57.3" cy="414.6" r="2.75" fill="url(#ggreen)"/><circle cx="95.0" cy="306.4" r="2.75" fill="url(#ggreen)"/><circle cx="84.4" cy="309.4" r="2.75" fill="url(#ggreen)"/><circle cx="71.6" cy="311.4" r="2.75" fill="url(#ggreen)"/><circle cx="69.5" cy="314.3" r="2.75" fill="url(#ggreen)"/><circle cx="64.3" cy="317.2" r="2.75" fill="url(#ggreen)"/><circle cx="66.6" cy="317.2" r="2.75" fill="url(#ggreen)"/><circle cx="66.3" cy="322.8" r="2.75" fill="url(#ggreen)"/><circle cx="73.6" cy="322.7" r="2.75" fill="url(#ggreen)"/><circle cx="82.4" cy="324.0" r="2.75" fill="url(#ggreen)"/><circle cx="85.9" cy="327.9" r="2.75" fill="url(#ggreen)"/><circle cx="60.8" cy="327.7" r="2.75" fill="url(#ggreen)"/><circle cx="67.8" cy="326.0" r="2.75" fill="url(#ggreen)"/><circle cx="69.5" cy="328.9" r="2.75" fill="url(#ggreen)"/><circle cx="71.9" cy="326.5" r="2.75" fill="url(#ggreen)"/><circle cx="64.6" cy="330.6" r="2.75" fill="url(#ggreen)"/><circle cx="73.4" cy="334.5" r="2.75" fill="url(#ggreen)"/><circle cx="71.5" cy="339.4" r="2.75" fill="url(#ggreen)"/><circle cx="121.5" cy="326.8" r="2.75" fill="url(#ggreen)"/><circle cx="64.6" cy="347.9" r="2.75" fill="url(#ggreen)"/><circle cx="71.6" cy="349.7" r="2.75" fill="url(#ggreen)"/><circle cx="82.4" cy="348.1" r="2.75" fill="url(#ggreen)"/><circle cx="60.8" cy="353.4" r="2.75" fill="url(#ggreen)"/><circle cx="103.6" cy="353.4" r="2.75" fill="url(#ggreen)"/><circle cx="71.6" cy="356.7" r="2.75" fill="url(#ggreen)"/><circle cx="62.5" cy="360.4" r="2.75" fill="url(#ggreen)"/><circle cx="91.5" cy="358.6" r="2.75" fill="url(#ggreen)"/><circle cx="73.6" cy="361.6" r="2.75" fill="url(#ggreen)"/><circle cx="67.8" cy="363.3" r="2.75" fill="url(#ggreen)"/><circle cx="75.4" cy="365.5" r="2.75" fill="url(#ggreen)"/><circle cx="64.6" cy="367.3" r="2.75" fill="url(#ggreen)"/><circle cx="80.6" cy="369.2" r="2.75" fill="url(#ggreen)"/><circle cx="83.0" cy="369.2" r="2.75" fill="url(#ggreen)"/><circle cx="96.7" cy="366.4" r="2.75" fill="url(#ggreen)"/><circle cx="91.4" cy="370.8" r="2.75" fill="url(#ggreen)"/><circle cx="92.9" cy="374.9" r="2.75" fill="url(#ggreen)"/><circle cx="91.4" cy="380.7" r="2.75" fill="url(#ggreen)"/><circle cx="73.4" cy="373.1" r="2.75" fill="url(#ggreen)"/><circle cx="64.6" cy="377.8" r="2.75" fill="url(#ggreen)"/><circle cx="68.1" cy="379.0" r="2.75" fill="url(#ggreen)"/><circle cx="114.5" cy="369.2" r="2.75" fill="url(#ggreen)"/><circle cx="121.5" cy="375.1" r="2.75" fill="url(#ggreen)"/><circle cx="134.1" cy="354.8" r="2.75" fill="url(#ggreen)"/><circle cx="196.9" cy="315.2" r="2.75" fill="url(#ggreen)"/><circle cx="195.1" cy="330.6" r="2.75" fill="url(#ggreen)"/><circle cx="200.6" cy="328.6" r="2.75" fill="url(#ggreen)"/><circle cx="211.2" cy="329.5" r="2.75" fill="url(#ggreen)"/><circle cx="203.9" cy="333.3" r="2.75" fill="url(#ggreen)"/><circle cx="203.9" cy="337.4" r="2.75" fill="url(#ggreen)"/><circle cx="184.4" cy="335.4" r="2.75" fill="url(#ggreen)"/><circle cx="191.4" cy="338.3" r="2.75" fill="url(#ggreen)"/><circle cx="229.0" cy="332.7" r="2.75" fill="url(#ggreen)"/><circle cx="229.0" cy="334.5" r="2.75" fill="url(#ggreen)"/><circle cx="239.8" cy="344.1" r="2.75" fill="url(#ggreen)"/><circle cx="239.8" cy="353.5" r="2.75" fill="url(#ggreen)"/><circle cx="196.6" cy="353.5" r="2.75" fill="url(#ggreen)"/><circle cx="209.4" cy="354.5" r="2.75" fill="url(#ggreen)"/><circle cx="214.7" cy="352.8" r="2.75" fill="url(#ggreen)"/><circle cx="184.4" cy="362.5" r="2.75" fill="url(#ggreen)"/><circle cx="196.6" cy="361.3" r="2.75" fill="url(#ggreen)"/><circle cx="180.5" cy="367.7" r="2.75" fill="url(#ggreen)"/><circle cx="198.6" cy="366.8" r="2.75" fill="url(#ggreen)"/><circle cx="205.6" cy="366.3" r="2.75" fill="url(#ggreen)"/><circle cx="212.6" cy="367.7" r="2.75" fill="url(#ggreen)"/><circle cx="221.7" cy="364.2" r="2.75" fill="url(#ggreen)"/><circle cx="227.2" cy="364.5" r="2.75" fill="url(#ggreen)"/><circle cx="234.6" cy="366.3" r="2.75" fill="url(#ggreen)"/><circle cx="245.3" cy="365.4" r="2.75" fill="url(#ggreen)"/><circle cx="168.4" cy="368.3" r="2.75" fill="url(#ggreen)"/><circle cx="198.8" cy="371.7" r="2.75" fill="url(#ggreen)"/><circle cx="221.7" cy="370.2" r="2.75" fill="url(#ggreen)"/><circle cx="253.4" cy="367.9" r="2.75" fill="url(#ggreen)"/><circle cx="243.0" cy="371.1" r="2.75" fill="url(#ggreen)"/><circle cx="246.8" cy="372.5" r="2.75" fill="url(#ggreen)"/><circle cx="250.6" cy="373.4" r="2.75" fill="url(#ggreen)"/><circle cx="230.7" cy="373.6" r="2.75" fill="url(#ggreen)"/><circle cx="229.7" cy="375.9" r="2.75" fill="url(#ggreen)"/><circle cx="229.7" cy="378.7" r="2.75" fill="url(#ggreen)"/><circle cx="229.3" cy="381.6" r="2.75" fill="url(#ggreen)"/><circle cx="182.6" cy="377.2" r="2.75" fill="url(#ggreen)"/><circle cx="202.2" cy="378.2" r="2.75" fill="url(#ggreen)"/><circle cx="204.1" cy="382.9" r="2.75" fill="url(#ggreen)"/><circle cx="220.2" cy="382.9" r="2.75" fill="url(#ggreen)"/><circle cx="246.8" cy="380.2" r="2.75" fill="url(#ggreen)"/><circle cx="250.6" cy="380.2" r="2.75" fill="url(#ggreen)"/><circle cx="189.5" cy="386.3" r="2.75" fill="url(#ggreen)"/><circle cx="261.6" cy="355.6" r="2.75" fill="url(#ggreen)"/><circle cx="239.2" cy="355.0" r="2.75" fill="url(#ggreen)"/><circle cx="254.2" cy="351.7" r="2.75" fill="url(#ggreen)"/><rect x="389.5" y="287.5" width="239.5" height="158.0" fill="none" stroke="#999999" stroke-width="1.6"/><line x1="416.11" y1="445.5" x2="416.11" y2="449.2" stroke="#3a3a3a" stroke-width="1.0"/><text x="416.11" y="458.1" text-anchor="middle" style="font-family:'Liberation Serif','Times New Roman',serif;font-size:7.7px" fill="#222">0</text><line x1="469.33" y1="445.5" x2="469.33" y2="449.2" stroke="#3a3a3a" stroke-width="1.0"/><text x="469.33" y="458.1" text-anchor="middle" style="font-family:'Liberation Serif','Times New Roman',serif;font-size:7.7px" fill="#222">20</text><line x1="522.56" y1="445.5" x2="522.56" y2="449.2" stroke="#3a3a3a" stroke-width="1.0"/><text x="522.56" y="458.1" text-anchor="middle" style="font-family:'Liberation Serif','Times New Roman',serif;font-size:7.7px" fill="#222">40</text><line x1="575.78" y1="445.5" x2="575.78" y2="449.2" stroke="#3a3a3a" stroke-width="1.0"/><text x="575.78" y="458.1" text-anchor="middle" style="font-family:'Liberation Serif','Times New Roman',serif;font-size:7.7px" fill="#222">60</text><line x1="629.00" y1="445.5" x2="629.00" y2="449.2" stroke="#3a3a3a" stroke-width="1.0"/><text x="629.00" y="458.1" text-anchor="middle" style="font-family:'Liberation Serif','Times New Roman',serif;font-size:7.7px" fill="#222">80</text><line x1="389.50" y1="445.5" x2="389.50" y2="447.4" stroke="#3a3a3a" stroke-width="1.0"/><line x1="442.72" y1="445.5" x2="442.72" y2="447.4" stroke="#3a3a3a" stroke-width="1.0"/><line x1="495.94" y1="445.5" x2="495.94" y2="447.4" stroke="#3a3a3a" stroke-width="1.0"/><line x1="549.17" y1="445.5" x2="549.17" y2="447.4" stroke="#3a3a3a" stroke-width="1.0"/><line x1="602.39" y1="445.5" x2="602.39" y2="447.4" stroke="#3a3a3a" stroke-width="1.0"/><line x1="385.8" y1="445.50" x2="389.5" y2="445.50" stroke="#3a3a3a" stroke-width="1.0"/><text x="383.9" y="448.10" text-anchor="end" style="font-family:'Liberation Serif','Times New Roman',serif;font-size:7.7px" fill="#222">-10000</text><line x1="385.8" y1="419.17" x2="389.5" y2="419.17" stroke="#3a3a3a" stroke-width="1.0"/><text x="383.9" y="421.77" text-anchor="end" style="font-family:'Liberation Serif','Times New Roman',serif;font-size:7.7px" fill="#222">0</text><line x1="385.8" y1="392.83" x2="389.5" y2="392.83" stroke="#3a3a3a" stroke-width="1.0"/><text x="383.9" y="395.43" text-anchor="end" style="font-family:'Liberation Serif','Times New Roman',serif;font-size:7.7px" fill="#222">10000</text><line x1="385.8" y1="366.50" x2="389.5" y2="366.50" stroke="#3a3a3a" stroke-width="1.0"/><text x="383.9" y="369.10" text-anchor="end" style="font-family:'Liberation Serif','Times New Roman',serif;font-size:7.7px" fill="#222">20000</text><line x1="385.8" y1="340.17" x2="389.5" y2="340.17" stroke="#3a3a3a" stroke-width="1.0"/><text x="383.9" y="342.77" text-anchor="end" style="font-family:'Liberation Serif','Times New Roman',serif;font-size:7.7px" fill="#222">30000</text><line x1="385.8" y1="313.83" x2="389.5" y2="313.83" stroke="#3a3a3a" stroke-width="1.0"/><text x="383.9" y="316.43" text-anchor="end" style="font-family:'Liberation Serif','Times New Roman',serif;font-size:7.7px" fill="#222">40000</text><line x1="385.8" y1="287.50" x2="389.5" y2="287.50" stroke="#3a3a3a" stroke-width="1.0"/><text x="383.9" y="290.10" text-anchor="end" style="font-family:'Liberation Serif','Times New Roman',serif;font-size:7.7px" fill="#222">50000</text><line x1="387.6" y1="432.33" x2="389.5" y2="432.33" stroke="#3a3a3a" stroke-width="1.0"/><line x1="387.6" y1="406.00" x2="389.5" y2="406.00" stroke="#3a3a3a" stroke-width="1.0"/><line x1="387.6" y1="379.67" x2="389.5" y2="379.67" stroke="#3a3a3a" stroke-width="1.0"/><line x1="387.6" y1="353.33" x2="389.5" y2="353.33" stroke="#3a3a3a" stroke-width="1.0"/><line x1="387.6" y1="327.00" x2="389.5" y2="327.00" stroke="#3a3a3a" stroke-width="1.0"/><line x1="387.6" y1="300.67" x2="389.5" y2="300.67" stroke="#3a3a3a" stroke-width="1.0"/><text x="509.25" y="469.2" text-anchor="middle" style="font-family:'Liberation Serif','Times New Roman',serif;font-size:9.5px" fill="#111">UCS (Mpa)</text><text x="358.30" y="366.50" text-anchor="middle" transform="rotate(-90 358.30 366.50)" style="font-family:'Liberation Serif','Times New Roman',serif;font-size:9.3px" fill="#111">Qu (KN)</text><rect x="416.5" y="251.2" width="118.5" height="21.0" fill="#ffedb3" stroke="#fb7b7b" stroke-width="1"/><line x1="492.5" y1="251.2" x2="492.5" y2="272.2" stroke="#fb7b7b" stroke-width="1"/><circle cx="416.5" cy="261.5" r="0.9" fill="#f24a4a"/><line x1="535.0" y1="261.5" x2="598.3" y2="261.5" stroke="#fb7b7b" stroke-width="0.9"/><line x1="598.3" y1="256.5" x2="598.3" y2="266.5" stroke="#fb7b7b" stroke-width="0.9"/><rect x="480.1" y="260.4" width="1.8" height="1.8" fill="#ec4040"/><rect x="594.1" y="260.7" width="1.8" height="1.5" fill="#fb8a8a"/><line x1="668.5" y1="306.8" x2="668.5" y2="355.0" stroke="#fb7b7b" stroke-width="0.9"/><line x1="668.5" y1="395.9" x2="668.5" y2="415.6" stroke="#fb7b7b" stroke-width="0.9"/><line x1="660.7" y1="306.8" x2="676.3" y2="306.8" stroke="#fb7b7b" stroke-width="0.9"/><line x1="660.7" y1="415.6" x2="676.3" y2="415.6" stroke="#fb7b7b" stroke-width="0.9"/><rect x="652.3" y="355.0" width="32.30000000000007" height="40.89999999999998" fill="#ffedb3" stroke="#fb7b7b" stroke-width="1"/><line x1="652.3" y1="378.5" x2="684.6" y2="378.5" stroke="#fb7b7b" stroke-width="1.1"/><circle cx="668.5" cy="373.4" r="1.1" fill="none" stroke="#ec5050" stroke-width="0.8"/><rect x="667.9" y="308.40000000000003" width="1.2" height="1.4" fill="#f06060"/><rect x="667.9" y="412.40000000000003" width="1.2" height="1.4" fill="#f06060"/><circle cx="416.3" cy="375.6" r="2.75" fill="url(#ggold)"/><circle cx="416.3" cy="377.0" r="2.75" fill="url(#ggold)"/><circle cx="416.3" cy="378.3" r="2.75" fill="url(#ggold)"/><circle cx="416.3" cy="379.7" r="2.75" fill="url(#ggold)"/><circle cx="416.3" cy="381.0" r="2.75" fill="url(#ggold)"/><circle cx="416.3" cy="382.4" r="2.75" fill="url(#ggold)"/><circle cx="416.3" cy="383.7" r="2.75" fill="url(#ggold)"/><circle cx="416.3" cy="385.1" r="2.75" fill="url(#ggold)"/><circle cx="416.3" cy="386.4" r="2.75" fill="url(#ggold)"/><circle cx="416.3" cy="387.8" r="2.75" fill="url(#ggold)"/><circle cx="416.3" cy="389.1" r="2.75" fill="url(#ggold)"/><circle cx="416.3" cy="390.5" r="2.75" fill="url(#ggold)"/><circle cx="416.3" cy="391.8" r="2.75" fill="url(#ggold)"/><circle cx="416.3" cy="393.2" r="2.75" fill="url(#ggold)"/><circle cx="416.3" cy="394.5" r="2.75" fill="url(#ggold)"/><circle cx="416.3" cy="395.9" r="2.75" fill="url(#ggold)"/><circle cx="416.3" cy="397.2" r="2.75" fill="url(#ggold)"/><circle cx="416.3" cy="398.6" r="2.75" fill="url(#ggold)"/><circle cx="416.3" cy="399.9" r="2.75" fill="url(#ggold)"/><circle cx="416.3" cy="401.3" r="2.75" fill="url(#ggold)"/><circle cx="416.3" cy="402.6" r="2.75" fill="url(#ggold)"/><circle cx="416.3" cy="404.0" r="2.75" fill="url(#ggold)"/><circle cx="416.3" cy="405.3" r="2.75" fill="url(#ggold)"/><circle cx="416.3" cy="406.7" r="2.75" fill="url(#ggold)"/><circle cx="416.3" cy="408.0" r="2.75" fill="url(#ggold)"/><circle cx="416.3" cy="409.4" r="2.75" fill="url(#ggold)"/><circle cx="416.3" cy="410.7" r="2.75" fill="url(#ggold)"/><circle cx="416.3" cy="412.1" r="2.75" fill="url(#ggold)"/><circle cx="416.3" cy="413.4" r="2.75" fill="url(#ggold)"/><circle cx="416.3" cy="414.8" r="2.75" fill="url(#ggold)"/><circle cx="506.6" cy="306.4" r="2.75" fill="url(#ggold)"/><circle cx="495.9" cy="309.2" r="2.75" fill="url(#ggold)"/><circle cx="491.0" cy="311.4" r="2.75" fill="url(#ggold)"/><circle cx="483.4" cy="317.2" r="2.75" fill="url(#ggold)"/><circle cx="492.4" cy="317.2" r="2.75" fill="url(#ggold)"/><circle cx="500.4" cy="322.7" r="2.75" fill="url(#ggold)"/><circle cx="491.0" cy="322.7" r="2.75" fill="url(#ggold)"/><circle cx="492.8" cy="324.8" r="2.75" fill="url(#ggold)"/><circle cx="486.4" cy="325.6" r="2.75" fill="url(#ggold)"/><circle cx="483.4" cy="327.7" r="2.75" fill="url(#ggold)"/><circle cx="491.0" cy="328.9" r="2.75" fill="url(#ggold)"/><circle cx="495.9" cy="329.7" r="2.75" fill="url(#ggold)"/><circle cx="502.1" cy="328.6" r="2.75" fill="url(#ggold)"/><circle cx="508.0" cy="330.6" r="2.75" fill="url(#ggold)"/><circle cx="508.0" cy="333.5" r="2.75" fill="url(#ggold)"/><circle cx="495.9" cy="337.3" r="2.75" fill="url(#ggold)"/><circle cx="494.2" cy="339.4" r="2.75" fill="url(#ggold)"/><circle cx="526.6" cy="314.3" r="2.75" fill="url(#ggold)"/><circle cx="529.6" cy="315.4" r="2.75" fill="url(#ggold)"/><circle cx="529.6" cy="326.5" r="2.75" fill="url(#ggold)"/><circle cx="529.6" cy="332.1" r="2.75" fill="url(#ggold)"/><circle cx="529.6" cy="334.5" r="2.75" fill="url(#ggold)"/><circle cx="543.3" cy="330.6" r="2.75" fill="url(#ggold)"/><circle cx="546.5" cy="329.5" r="2.75" fill="url(#ggold)"/><circle cx="546.5" cy="337.3" r="2.75" fill="url(#ggold)"/><circle cx="486.6" cy="347.8" r="2.75" fill="url(#ggold)"/><circle cx="505.0" cy="347.8" r="2.75" fill="url(#ggold)"/><circle cx="492.8" cy="353.4" r="2.75" fill="url(#ggold)"/><circle cx="497.4" cy="353.4" r="2.75" fill="url(#ggold)"/><circle cx="492.4" cy="358.6" r="2.75" fill="url(#ggold)"/><circle cx="509.5" cy="354.6" r="2.75" fill="url(#ggold)"/><circle cx="512.6" cy="356.9" r="2.75" fill="url(#ggold)"/><circle cx="526.4" cy="354.6" r="2.75" fill="url(#ggold)"/><circle cx="538.7" cy="353.4" r="2.75" fill="url(#ggold)"/><circle cx="543.0" cy="349.3" r="2.75" fill="url(#ggold)"/><circle cx="546.5" cy="352.8" r="2.75" fill="url(#ggold)"/><circle cx="549.4" cy="353.4" r="2.75" fill="url(#ggold)"/><circle cx="523.1" cy="362.2" r="2.75" fill="url(#ggold)"/><circle cx="529.6" cy="361.3" r="2.75" fill="url(#ggold)"/><circle cx="532.5" cy="360.4" r="2.75" fill="url(#ggold)"/><circle cx="497.4" cy="364.5" r="2.75" fill="url(#ggold)"/><circle cx="507.7" cy="363.9" r="2.75" fill="url(#ggold)"/><circle cx="515.5" cy="364.8" r="2.75" fill="url(#ggold)"/><circle cx="544.7" cy="363.7" r="2.75" fill="url(#ggold)"/><circle cx="489.6" cy="369.2" r="2.75" fill="url(#ggold)"/><circle cx="494.5" cy="373.9" r="2.75" fill="url(#ggold)"/><circle cx="501.8" cy="369.2" r="2.75" fill="url(#ggold)"/><circle cx="505.0" cy="367.3" r="2.75" fill="url(#ggold)"/><circle cx="517.3" cy="368.4" r="2.75" fill="url(#ggold)"/><circle cx="511.2" cy="371.4" r="2.75" fill="url(#ggold)"/><circle cx="508.0" cy="377.8" r="2.75" fill="url(#ggold)"/><circle cx="511.5" cy="377.2" r="2.75" fill="url(#ggold)"/><circle cx="500.4" cy="380.7" r="2.75" fill="url(#ggold)"/><circle cx="511.2" cy="382.8" r="2.75" fill="url(#ggold)"/><circle cx="524.9" cy="368.4" r="2.75" fill="url(#ggold)"/><circle cx="532.5" cy="366.4" r="2.75" fill="url(#ggold)"/><circle cx="538.7" cy="369.2" r="2.75" fill="url(#ggold)"/><circle cx="540.1" cy="373.1" r="2.75" fill="url(#ggold)"/><circle cx="536.6" cy="374.9" r="2.75" fill="url(#ggold)"/><circle cx="537.2" cy="380.7" r="2.75" fill="url(#ggold)"/><circle cx="543.0" cy="365.5" r="2.75" fill="url(#ggold)"/><circle cx="547.7" cy="371.4" r="2.75" fill="url(#ggold)"/><circle cx="544.5" cy="382.4" r="2.75" fill="url(#ggold)"/><circle cx="547.7" cy="386.5" r="2.75" fill="url(#ggold)"/><circle cx="557.1" cy="335.5" r="2.75" fill="url(#ggold)"/><circle cx="569.2" cy="334.6" r="2.75" fill="url(#ggold)"/><circle cx="589.0" cy="344.3" r="2.75" fill="url(#ggold)"/><circle cx="561.4" cy="353.6" r="2.75" fill="url(#ggold)"/><circle cx="582.7" cy="351.9" r="2.75" fill="url(#ggold)"/><circle cx="598.2" cy="354.5" r="2.75" fill="url(#ggold)"/><circle cx="549.9" cy="372.3" r="2.75" fill="url(#ggold)"/><circle cx="560.0" cy="371.3" r="2.75" fill="url(#ggold)"/><circle cx="557.1" cy="378.9" r="2.75" fill="url(#ggold)"/><circle cx="566.0" cy="375.0" r="2.75" fill="url(#ggold)"/><circle cx="572.2" cy="367.1" r="2.75" fill="url(#ggold)"/><circle cx="576.8" cy="367.1" r="2.75" fill="url(#ggold)"/><circle cx="574.8" cy="369.7" r="2.75" fill="url(#ggold)"/><circle cx="573.5" cy="373.7" r="2.75" fill="url(#ggold)"/><circle cx="576.8" cy="375.0" r="2.75" fill="url(#ggold)"/><circle cx="572.2" cy="380.9" r="2.75" fill="url(#ggold)"/><circle cx="582.7" cy="377.6" r="2.75" fill="url(#ggold)"/><circle cx="582.7" cy="381.5" r="2.75" fill="url(#ggold)"/><circle cx="588.0" cy="366.4" r="2.75" fill="url(#ggold)"/><circle cx="591.9" cy="367.1" r="2.75" fill="url(#ggold)"/><circle cx="590.6" cy="378.6" r="2.75" fill="url(#ggold)"/><circle cx="595.2" cy="382.6" r="2.75" fill="url(#ggold)"/><rect x="213.4" y="522.2" width="239.20000000000002" height="158.29999999999995" fill="none" stroke="#333" stroke-width="1.2"/><line x1="235.15" y1="680.5" x2="235.15" y2="683.9" stroke="#333" stroke-width="1.0"/><text x="235.15" y="693.1" text-anchor="middle" style="font-family:'Liberation Serif','Times New Roman',serif;font-size:7.7px" fill="#222">0</text><line x1="278.64" y1="680.5" x2="278.64" y2="683.9" stroke="#333" stroke-width="1.0"/><text x="278.64" y="693.1" text-anchor="middle" style="font-family:'Liberation Serif','Times New Roman',serif;font-size:7.7px" fill="#222">2</text><line x1="322.13" y1="680.5" x2="322.13" y2="683.9" stroke="#333" stroke-width="1.0"/><text x="322.13" y="693.1" text-anchor="middle" style="font-family:'Liberation Serif','Times New Roman',serif;font-size:7.7px" fill="#222">4</text><line x1="365.62" y1="680.5" x2="365.62" y2="683.9" stroke="#333" stroke-width="1.0"/><text x="365.62" y="693.1" text-anchor="middle" style="font-family:'Liberation Serif','Times New Roman',serif;font-size:7.7px" fill="#222">6</text><line x1="409.11" y1="680.5" x2="409.11" y2="683.9" stroke="#333" stroke-width="1.0"/><text x="409.11" y="693.1" text-anchor="middle" style="font-family:'Liberation Serif','Times New Roman',serif;font-size:7.7px" fill="#222">8</text><line x1="452.60" y1="680.5" x2="452.60" y2="683.9" stroke="#333" stroke-width="1.0"/><text x="452.60" y="693.1" text-anchor="middle" style="font-family:'Liberation Serif','Times New Roman',serif;font-size:7.7px" fill="#222">10</text><line x1="213.40" y1="680.5" x2="213.40" y2="682.3" stroke="#333" stroke-width="1.0"/><line x1="256.89" y1="680.5" x2="256.89" y2="682.3" stroke="#333" stroke-width="1.0"/><line x1="300.38" y1="680.5" x2="300.38" y2="682.3" stroke="#333" stroke-width="1.0"/><line x1="343.87" y1="680.5" x2="343.87" y2="682.3" stroke="#333" stroke-width="1.0"/><line x1="387.36" y1="680.5" x2="387.36" y2="682.3" stroke="#333" stroke-width="1.0"/><line x1="430.85" y1="680.5" x2="430.85" y2="682.3" stroke="#333" stroke-width="1.0"/><line x1="210.0" y1="680.50" x2="213.4" y2="680.50" stroke="#333" stroke-width="1.0"/><text x="207.8" y="683.10" text-anchor="end" style="font-family:'Liberation Serif','Times New Roman',serif;font-size:7.7px" fill="#222">-10000</text><line x1="210.0" y1="654.12" x2="213.4" y2="654.12" stroke="#333" stroke-width="1.0"/><text x="207.8" y="656.72" text-anchor="end" style="font-family:'Liberation Serif','Times New Roman',serif;font-size:7.7px" fill="#222">0</text><line x1="210.0" y1="627.73" x2="213.4" y2="627.73" stroke="#333" stroke-width="1.0"/><text x="207.8" y="630.33" text-anchor="end" style="font-family:'Liberation Serif','Times New Roman',serif;font-size:7.7px" fill="#222">10000</text><line x1="210.0" y1="601.35" x2="213.4" y2="601.35" stroke="#333" stroke-width="1.0"/><text x="207.8" y="603.95" text-anchor="end" style="font-family:'Liberation Serif','Times New Roman',serif;font-size:7.7px" fill="#222">20000</text><line x1="210.0" y1="574.97" x2="213.4" y2="574.97" stroke="#333" stroke-width="1.0"/><text x="207.8" y="577.57" text-anchor="end" style="font-family:'Liberation Serif','Times New Roman',serif;font-size:7.7px" fill="#222">30000</text><line x1="210.0" y1="548.58" x2="213.4" y2="548.58" stroke="#333" stroke-width="1.0"/><text x="207.8" y="551.18" text-anchor="end" style="font-family:'Liberation Serif','Times New Roman',serif;font-size:7.7px" fill="#222">40000</text><line x1="210.0" y1="522.20" x2="213.4" y2="522.20" stroke="#333" stroke-width="1.0"/><text x="207.8" y="524.80" text-anchor="end" style="font-family:'Liberation Serif','Times New Roman',serif;font-size:7.7px" fill="#222">50000</text><line x1="211.6" y1="667.31" x2="213.4" y2="667.31" stroke="#333" stroke-width="1.0"/><line x1="211.6" y1="640.92" x2="213.4" y2="640.92" stroke="#333" stroke-width="1.0"/><line x1="211.6" y1="614.54" x2="213.4" y2="614.54" stroke="#333" stroke-width="1.0"/><line x1="211.6" y1="588.16" x2="213.4" y2="588.16" stroke="#333" stroke-width="1.0"/><line x1="211.6" y1="561.78" x2="213.4" y2="561.78" stroke="#333" stroke-width="1.0"/><line x1="211.6" y1="535.39" x2="213.4" y2="535.39" stroke="#333" stroke-width="1.0"/><text x="333.00" y="704.2" text-anchor="middle" style="font-family:'Liberation Serif','Times New Roman',serif;font-size:9.5px" fill="#111">Hr (m)</text><text x="182.20" y="601.35" text-anchor="middle" transform="rotate(-90 182.20 601.35)" style="font-family:'Liberation Serif','Times New Roman',serif;font-size:9.3px" fill="#111">Qu (KN)</text><rect x="235.2" y="485.8" width="21.69999999999999" height="20.80000000000001" fill="#f2a9fa" stroke="#fb7b7b" stroke-width="1"/><circle cx="235.2" cy="496.1" r="0.9" fill="#f24a4a"/><line x1="256.9" y1="496.1" x2="289.5" y2="496.1" stroke="#fb7b7b" stroke-width="0.9"/><line x1="289.5" y1="491.1" x2="289.5" y2="501.1" stroke="#fb7b7b" stroke-width="0.9"/><rect x="251.5" y="495.0" width="1.8" height="1.8" fill="#ec4040"/><rect x="410.1" y="495.3" width="1.8" height="1.5" fill="#fb8a8a"/><rect x="416.1" y="495.3" width="1.8" height="1.5" fill="#fb8a8a"/><line x1="492.6" y1="541.4" x2="492.6" y2="589.5" stroke="#fb7b7b" stroke-width="0.9"/><line x1="492.6" y1="630.3" x2="492.6" y2="650.6" stroke="#fb7b7b" stroke-width="0.9"/><line x1="484.8" y1="541.4" x2="500.40000000000003" y2="541.4" stroke="#fb7b7b" stroke-width="0.9"/><line x1="484.8" y1="650.6" x2="500.40000000000003" y2="650.6" stroke="#fb7b7b" stroke-width="0.9"/><rect x="476.4" y="589.5" width="32.10000000000002" height="40.799999999999955" fill="#f2a9fa" stroke="#fb7b7b" stroke-width="1"/><line x1="476.4" y1="612.3" x2="508.5" y2="612.3" stroke="#fb7b7b" stroke-width="1.1"/><circle cx="492.6" cy="607.9" r="1.1" fill="none" stroke="#ec5050" stroke-width="0.8"/><rect x="492.0" y="543.0" width="1.2" height="1.4" fill="#f06060"/><rect x="492.0" y="647.4" width="1.2" height="1.4" fill="#f06060"/><circle cx="235.2" cy="541.3" r="2.75" fill="url(#gpurple)"/><circle cx="235.2" cy="542.6" r="2.75" fill="url(#gpurple)"/><circle cx="235.2" cy="544.0" r="2.75" fill="url(#gpurple)"/><circle cx="235.2" cy="545.4" r="2.75" fill="url(#gpurple)"/><circle cx="235.2" cy="546.7" r="2.75" fill="url(#gpurple)"/><circle cx="235.2" cy="548.1" r="2.75" fill="url(#gpurple)"/><circle cx="235.2" cy="549.4" r="2.75" fill="url(#gpurple)"/><circle cx="235.2" cy="550.8" r="2.75" fill="url(#gpurple)"/><circle cx="235.2" cy="552.1" r="2.75" fill="url(#gpurple)"/><circle cx="235.2" cy="555.6" r="2.75" fill="url(#gpurple)"/><circle cx="235.2" cy="557.0" r="2.75" fill="url(#gpurple)"/><circle cx="235.2" cy="558.3" r="2.75" fill="url(#gpurple)"/><circle cx="235.2" cy="559.7" r="2.75" fill="url(#gpurple)"/><circle cx="235.2" cy="561.0" r="2.75" fill="url(#gpurple)"/><circle cx="235.2" cy="562.4" r="2.75" fill="url(#gpurple)"/><circle cx="235.2" cy="563.7" r="2.75" fill="url(#gpurple)"/><circle cx="235.2" cy="565.1" r="2.75" fill="url(#gpurple)"/><circle cx="235.2" cy="566.4" r="2.75" fill="url(#gpurple)"/><circle cx="235.2" cy="567.8" r="2.75" fill="url(#gpurple)"/><circle cx="235.2" cy="569.1" r="2.75" fill="url(#gpurple)"/><circle cx="235.2" cy="570.5" r="2.75" fill="url(#gpurple)"/><circle cx="235.2" cy="571.8" r="2.75" fill="url(#gpurple)"/><circle cx="235.2" cy="573.2" r="2.75" fill="url(#gpurple)"/><circle cx="235.2" cy="574.5" r="2.75" fill="url(#gpurple)"/><circle cx="235.2" cy="577.8" r="2.75" fill="url(#gpurple)"/><circle cx="235.2" cy="579.1" r="2.75" fill="url(#gpurple)"/><circle cx="235.2" cy="580.5" r="2.75" fill="url(#gpurple)"/><circle cx="235.2" cy="581.9" r="2.75" fill="url(#gpurple)"/><circle cx="235.2" cy="583.2" r="2.75" fill="url(#gpurple)"/><circle cx="235.2" cy="584.6" r="2.75" fill="url(#gpurple)"/><circle cx="235.2" cy="585.9" r="2.75" fill="url(#gpurple)"/><circle cx="235.2" cy="587.3" r="2.75" fill="url(#gpurple)"/><circle cx="235.2" cy="588.6" r="2.75" fill="url(#gpurple)"/><circle cx="235.2" cy="590.0" r="2.75" fill="url(#gpurple)"/><circle cx="235.2" cy="591.3" r="2.75" fill="url(#gpurple)"/><circle cx="235.2" cy="592.7" r="2.75" fill="url(#gpurple)"/><circle cx="235.2" cy="594.0" r="2.75" fill="url(#gpurple)"/><circle cx="235.2" cy="595.4" r="2.75" fill="url(#gpurple)"/><circle cx="235.2" cy="596.7" r="2.75" fill="url(#gpurple)"/><circle cx="235.2" cy="598.1" r="2.75" fill="url(#gpurple)"/><circle cx="235.2" cy="599.4" r="2.75" fill="url(#gpurple)"/><circle cx="235.2" cy="600.8" r="2.75" fill="url(#gpurple)"/><circle cx="235.2" cy="602.1" r="2.75" fill="url(#gpurple)"/><circle cx="235.2" cy="603.5" r="2.75" fill="url(#gpurple)"/><circle cx="235.2" cy="604.8" r="2.75" fill="url(#gpurple)"/><circle cx="235.2" cy="606.2" r="2.75" fill="url(#gpurple)"/><circle cx="235.2" cy="607.5" r="2.75" fill="url(#gpurple)"/><circle cx="235.2" cy="608.9" r="2.75" fill="url(#gpurple)"/><circle cx="235.2" cy="610.2" r="2.75" fill="url(#gpurple)"/><circle cx="235.2" cy="611.6" r="2.75" fill="url(#gpurple)"/><circle cx="235.2" cy="612.9" r="2.75" fill="url(#gpurple)"/><circle cx="235.2" cy="614.3" r="2.75" fill="url(#gpurple)"/><circle cx="235.2" cy="615.6" r="2.75" fill="url(#gpurple)"/><circle cx="235.2" cy="617.0" r="2.75" fill="url(#gpurple)"/><circle cx="235.2" cy="618.3" r="2.75" fill="url(#gpurple)"/><circle cx="235.2" cy="619.7" r="2.75" fill="url(#gpurple)"/><circle cx="235.2" cy="621.0" r="2.75" fill="url(#gpurple)"/><circle cx="245.7" cy="610.2" r="2.75" fill="url(#gpurple)"/><circle cx="256.5" cy="614.3" r="2.75" fill="url(#gpurple)"/><circle cx="261.1" cy="616.6" r="2.75" fill="url(#gpurple)"/><circle cx="265.2" cy="618.4" r="2.75" fill="url(#gpurple)"/><circle cx="274.2" cy="617.5" r="2.75" fill="url(#gpurple)"/><circle cx="248.3" cy="622.1" r="2.75" fill="url(#gpurple)"/><circle cx="245.4" cy="624.2" r="2.75" fill="url(#gpurple)"/><circle cx="245.4" cy="626.5" r="2.75" fill="url(#gpurple)"/><circle cx="245.4" cy="630.0" r="2.75" fill="url(#gpurple)"/><circle cx="245.4" cy="635.9" r="2.75" fill="url(#gpurple)"/><circle cx="245.4" cy="638.2" r="2.75" fill="url(#gpurple)"/><circle cx="256.5" cy="617.2" r="2.75" fill="url(#gpurple)"/><circle cx="256.5" cy="621.9" r="2.75" fill="url(#gpurple)"/><circle cx="256.5" cy="626.0" r="2.75" fill="url(#gpurple)"/><circle cx="256.5" cy="630.0" r="2.75" fill="url(#gpurple)"/><circle cx="256.5" cy="635.9" r="2.75" fill="url(#gpurple)"/><circle cx="260.5" cy="626.0" r="2.75" fill="url(#gpurple)"/><circle cx="260.5" cy="630.0" r="2.75" fill="url(#gpurple)"/><circle cx="260.5" cy="635.3" r="2.75" fill="url(#gpurple)"/><circle cx="260.5" cy="638.8" r="2.75" fill="url(#gpurple)"/><circle cx="252.4" cy="632.4" r="2.75" fill="url(#gpurple)"/><circle cx="253.0" cy="636.5" r="2.75" fill="url(#gpurple)"/><circle cx="251.2" cy="641.1" r="2.75" fill="url(#gpurple)"/><circle cx="256.5" cy="641.1" r="2.75" fill="url(#gpurple)"/><circle cx="252.4" cy="646.4" r="2.75" fill="url(#gpurple)"/><circle cx="261.1" cy="645.2" r="2.75" fill="url(#gpurple)"/><circle cx="256.8" cy="650.1" r="2.75" fill="url(#gpurple)"/><circle cx="267.6" cy="624.2" r="2.75" fill="url(#gpurple)"/><circle cx="267.6" cy="627.1" r="2.75" fill="url(#gpurple)"/><circle cx="268.4" cy="631.8" r="2.75" fill="url(#gpurple)"/><circle cx="266.4" cy="637.0" r="2.75" fill="url(#gpurple)"/><circle cx="267.6" cy="640.0" r="2.75" fill="url(#gpurple)"/><circle cx="272.2" cy="641.4" r="2.75" fill="url(#gpurple)"/><circle cx="278.1" cy="635.3" r="2.75" fill="url(#gpurple)"/><circle cx="282.7" cy="629.8" r="2.75" fill="url(#gpurple)"/><circle cx="285.3" cy="627.1" r="2.75" fill="url(#gpurple)"/><circle cx="278.6" cy="643.5" r="2.75" fill="url(#gpurple)"/><circle cx="285.3" cy="642.0" r="2.75" fill="url(#gpurple)"/><circle cx="289.2" cy="637.3" r="2.75" fill="url(#gpurple)"/><circle cx="248.0" cy="633.0" r="2.75" fill="url(#gpurple)"/><circle cx="250.0" cy="638.0" r="2.75" fill="url(#gpurple)"/><circle cx="257.0" cy="614.0" r="2.75" fill="url(#gpurple)"/><circle cx="257.0" cy="618.0" r="2.75" fill="url(#gpurple)"/><circle cx="257.0" cy="623.0" r="2.75" fill="url(#gpurple)"/><circle cx="257.0" cy="628.0" r="2.75" fill="url(#gpurple)"/><circle cx="257.0" cy="632.0" r="2.75" fill="url(#gpurple)"/><circle cx="257.0" cy="637.0" r="2.75" fill="url(#gpurple)"/><circle cx="262.0" cy="633.0" r="2.75" fill="url(#gpurple)"/><circle cx="264.0" cy="641.0" r="2.75" fill="url(#gpurple)"/><circle cx="300.4" cy="629.3" r="2.75" fill="url(#gpurple)"/><circle cx="300.4" cy="634.3" r="2.75" fill="url(#gpurple)"/><circle cx="313.0" cy="632.8" r="2.75" fill="url(#gpurple)"/><circle cx="322.2" cy="636.0" r="2.75" fill="url(#gpurple)"/><circle cx="332.6" cy="628.6" r="2.75" fill="url(#gpurple)"/><circle cx="343.8" cy="634.0" r="2.75" fill="url(#gpurple)"/><circle cx="376.3" cy="627.3" r="2.75" fill="url(#gpurple)"/><circle cx="397.4" cy="619.4" r="2.75" fill="url(#gpurple)"/><circle cx="410.8" cy="632.3" r="2.75" fill="url(#gpurple)"/><circle cx="410.8" cy="634.3" r="2.75" fill="url(#gpurple)"/><circle cx="417.0" cy="629.8" r="2.75" fill="url(#gpurple)"/></svg>
</body></html>
